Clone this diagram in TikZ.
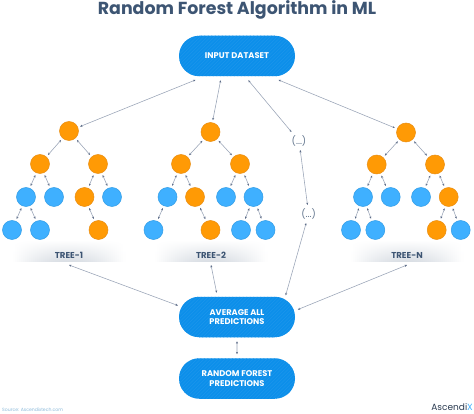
\documentclass[tikz,border=0pt]{standalone}
\usepackage{fontspec}
\setmainfont{Poppins}
\usetikzlibrary{arrows.meta,shapes.misc}
\definecolor{pill}{HTML}{0C8FEA}
\definecolor{pillstripe}{HTML}{1C96EC}
\definecolor{org}{HTML}{FF9A05}
\definecolor{orgb}{HTML}{E98E12}
\definecolor{blu}{HTML}{3FB0FF}
\definecolor{blub}{HTML}{329DE6}
\definecolor{titlec}{HTML}{3D5573}
\definecolor{edgec}{HTML}{98A3B6}
\definecolor{tipc}{HTML}{5A6A86}
\newcommand{\bandat}[1]{%
  \foreach \i in {0,...,55}{%
    \pgfmathsetmacro{\mixv}{20*sin(180*(\i+0.5)/56)}%
    \shade[draw=none,top color=white,bottom color=titlec!\mixv!white]
      ({#1-56+2*\i},240) rectangle ({#1-56+2*\i+2.3},262);
  }}
\tikzset{
  pillnode/.style={rounded rectangle,rounded rectangle arc length=180,fill=pill,draw=none,
    minimum width=116pt,minimum height=40.5pt,inner sep=0pt,outer sep=4pt,text=white,
    font=\bfseries\fontsize{8.3}{9.2}\selectfont,align=center,
    path picture={
      \foreach \k in {-170,-166.5,...,170}
        \draw[pillstripe,line width=0.7pt] ([xshift=\k pt,yshift=-30pt]path picture bounding box.center) -- ++(60pt,60pt);
    }},
  orgnode/.style={circle,fill=org,draw=orgb,line width=0.5pt,minimum size=19pt,inner sep=0pt,outer sep=2.5pt},
  blunode/.style={circle,fill=blu,draw=blub,line width=0.5pt,minimum size=19pt,inner sep=0pt,outer sep=2.5pt},
  link/.style={edgec,line width=0.55pt,{Stealth[length=2.4pt,width=2pt,color=tipc]}-{Stealth[length=2.4pt,width=2pt,color=tipc]}},
  treelabel/.style={text=titlec,font=\bfseries\fontsize{8.6}{9}\selectfont,minimum width=40pt,minimum height=14pt,inner sep=0pt,outer sep=3pt},
  dotsnode/.style={text=titlec!80,font=\fontsize{9.5}{10}\selectfont,inner sep=0pt,minimum width=14pt,minimum height=14pt,outer sep=2pt}
}
\begin{document}
\begin{tikzpicture}[x=1pt,y=-1pt]
\useasboundingbox (0,0) rectangle (474,414);
\fill[white] (0,0) rectangle (474,414);
% label bands
\bandat{69}
\bandat{211}
\bandat{407}
% title
\node[name=title,text=titlec,font=\bfseries\fontsize{17.4}{20}\selectfont,inner sep=0pt] at (237,10) {Random Forest Algorithm in ML};
% pills
\node[pillnode] (input) at (237,56) {INPUT DATASET};
\node[pillnode] (avg) at (237,317) {AVERAGE ALL\\PREDICTIONS};
\node[pillnode] (rfp) at (237,378.5) {RANDOM FOREST\\PREDICTIONS};
% tree 1
\node[orgnode] (a0) at (69,131) {};
\node[orgnode] (a1) at (40,164) {};
\node[orgnode] (a2) at (98,164) {};
\node[blunode] (a3) at (26,197) {};
\node[blunode] (a4) at (54,197) {};
\node[orgnode] (a5) at (84.5,197) {};
\node[blunode] (a6) at (112,197) {};
\node[blunode] (a7) at (12,230) {};
\node[blunode] (a8) at (40,230) {};
\node[orgnode] (a9) at (98.5,230) {};
% tree 2
\node[orgnode] (b0) at (210.5,132) {};
\node[orgnode] (b1) at (181,164) {};
\node[orgnode] (b2) at (240,164) {};
\node[blunode] (b3) at (167.5,197) {};
\node[orgnode] (b4) at (195,197) {};
\node[blunode] (b5) at (226,197) {};
\node[blunode] (b6) at (253.5,197) {};
\node[blunode] (b7) at (153.5,230) {};
\node[orgnode] (b8) at (210.5,230) {};
\node[blunode] (b9) at (241,230) {};
\node[blunode] (b10) at (265.5,230) {};
% tree N
\node[orgnode] (c0) at (406,132.5) {};
\node[orgnode] (c1) at (376.7,164.5) {};
\node[orgnode] (c2) at (435,164.5) {};
\node[blunode] (c3) at (363,197) {};
\node[blunode] (c4) at (390.7,197) {};
\node[blunode] (c5) at (421,197) {};
\node[orgnode] (c6) at (448.7,197) {};
\node[blunode] (c7) at (351,230) {};
\node[blunode] (c8) at (375.3,230) {};
\node[orgnode] (c9) at (436.7,230) {};
\node[blunode] (c10) at (460.7,230) {};
% labels
\node[treelabel] (t1) at (69,255) {TREE-1};
\node[treelabel] (t2) at (211,255) {TREE-2};
\node[treelabel] (tn) at (407,255) {TREE-N};
\node[dotsnode] (d1) at (299,141) {(...)};
\node[dotsnode] (d2) at (308.7,214) {(...)};
% tree edges
\foreach \u/\v in {a0/a1,a0/a2,a1/a3,a1/a4,a2/a5,a2/a6,a3/a7,a3/a8,a5/a9,
  b0/b1,b0/b2,b1/b3,b1/b4,b2/b5,b2/b6,b3/b7,b4/b8,b6/b9,b6/b10,
  c0/c1,c0/c2,c1/c3,c1/c4,c2/c5,c2/c6,c3/c7,c3/c8,c6/c9,c6/c10}
  \draw[link] (\u) -- (\v);
% main connectors
\draw[link] (input.-150) -- (a0);
\draw[link] (input.-124) -- (b0);
\draw[link] (input.-65) -- (d1);
\draw[link] (input.-30) -- (c0);
\draw[link] (d1) -- (d2);
\draw[link] (t1.south) -- (avg.169);
\draw[link] (t2.south) -- (avg.130);
\draw[link] (d2) -- (avg.24);
\draw[link] (tn.south) -- (avg.7);
\draw[link] (avg) -- (rfp);
% footer
\node[name=source,anchor=west,inner sep=0pt,text=blu!60!gray!70,font=\fontsize{4.6}{5}\selectfont] at (2,409.5) {Source: Ascendixtech.com};
\node[name=logo,anchor=east,inner sep=0pt,text=titlec!70!black,font=\fontsize{9}{10}\selectfont] at (473,407.5) {Ascendi\textcolor{blu}{X}};
\end{tikzpicture}
\end{document}
